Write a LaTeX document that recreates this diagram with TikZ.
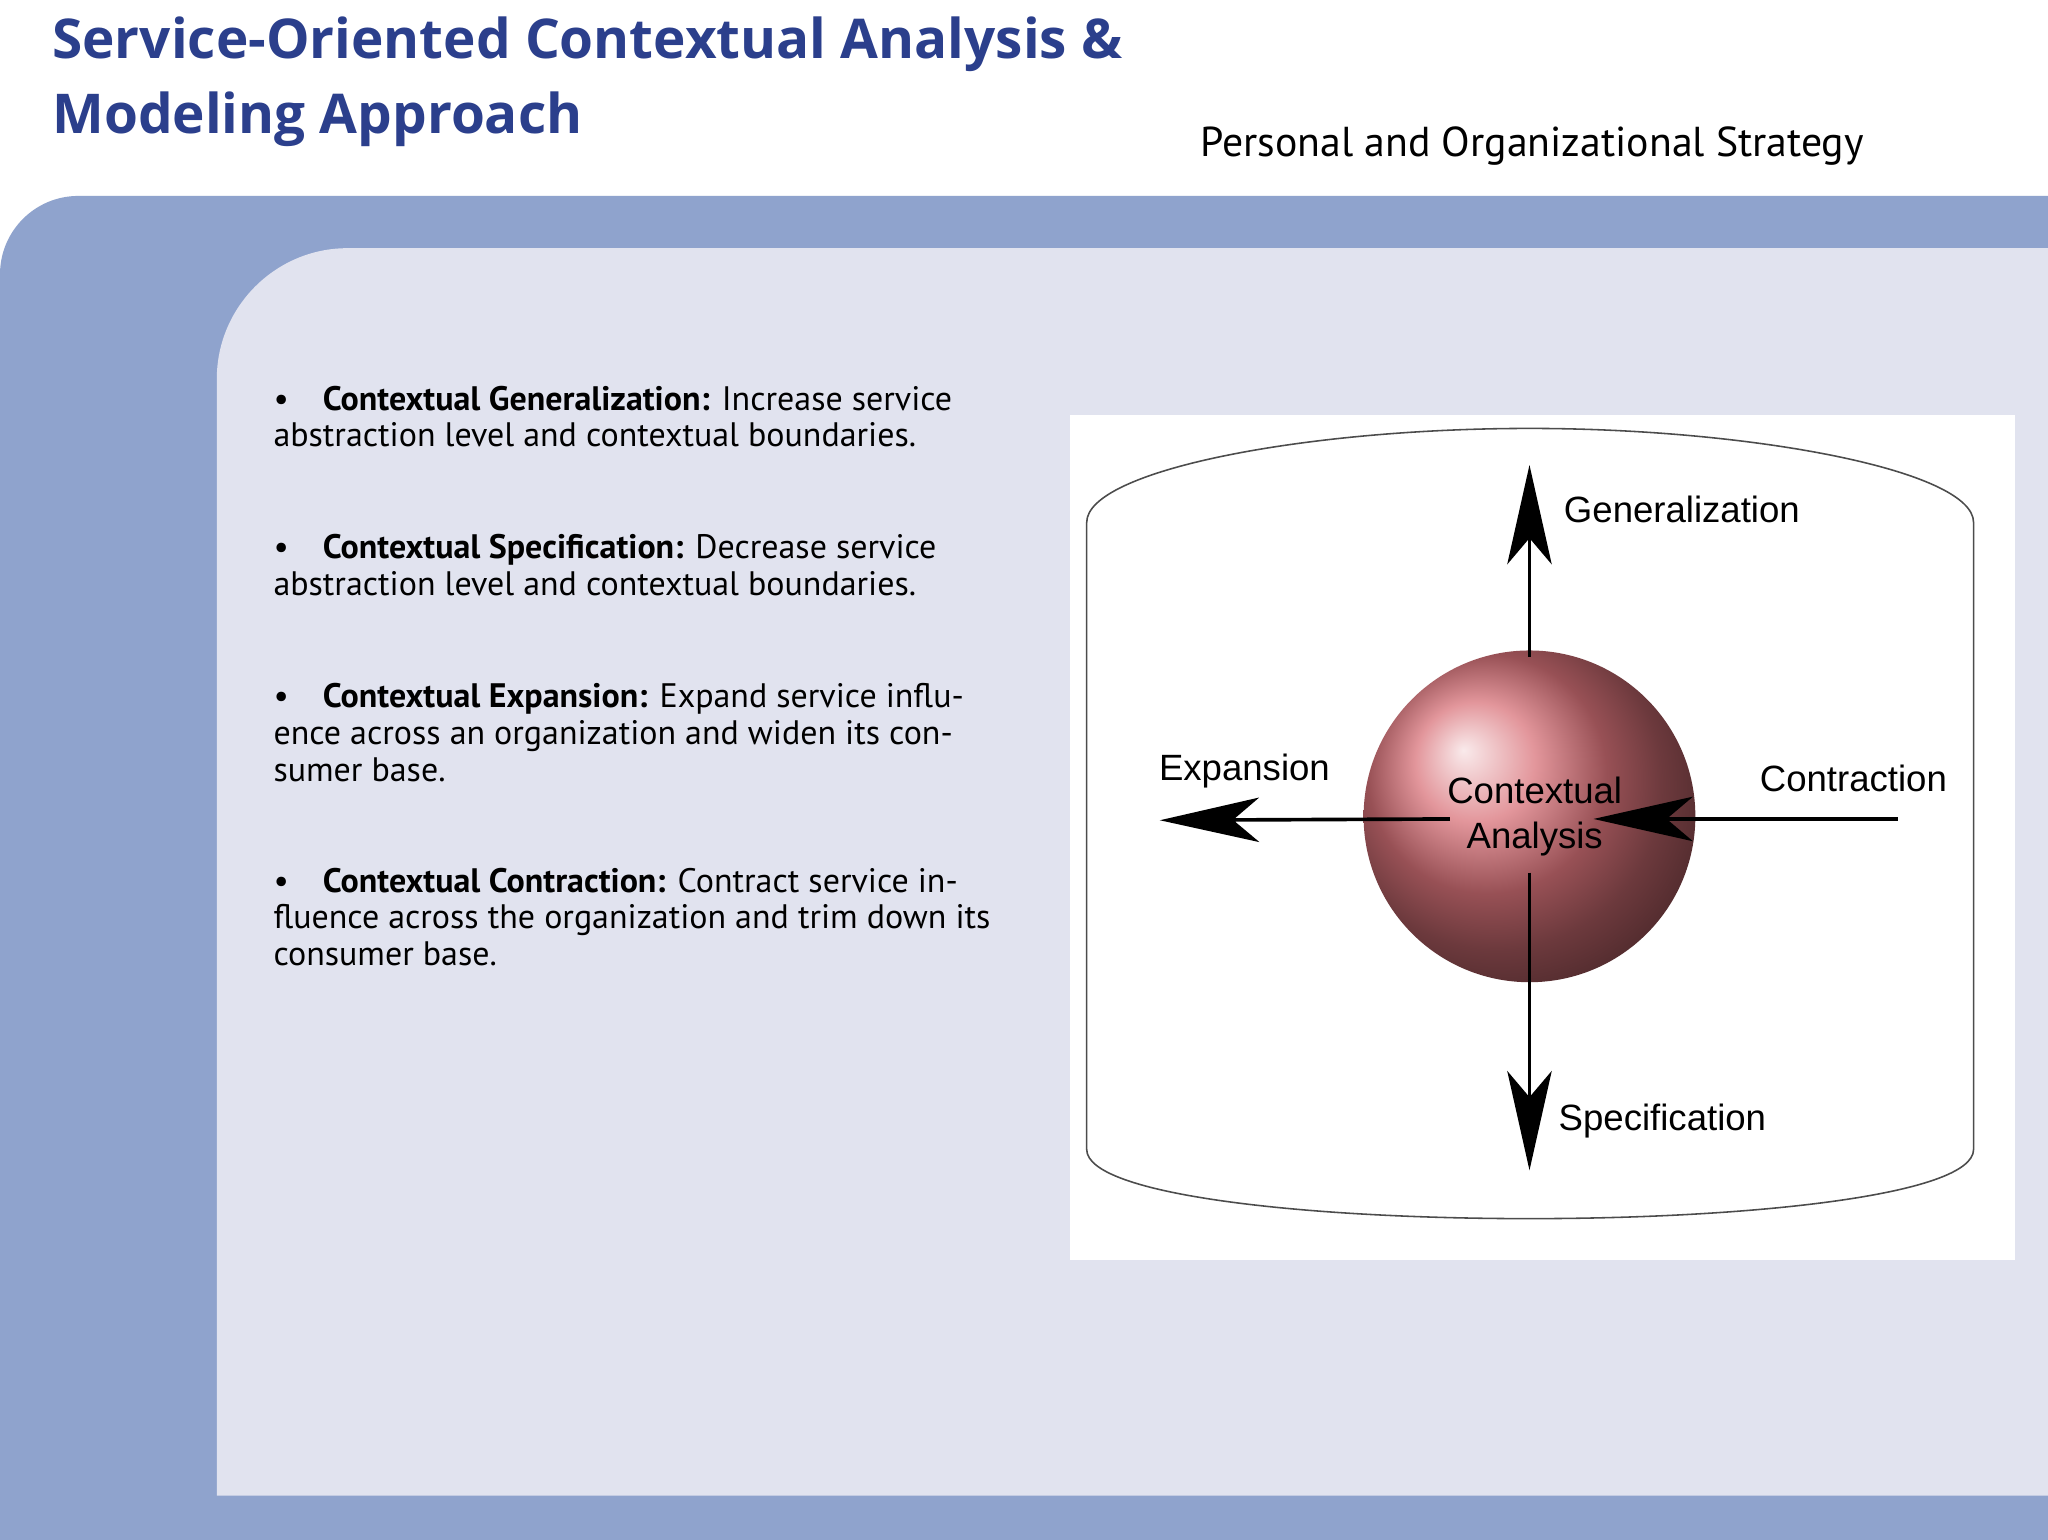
\documentclass[tikz,border=0pt]{standalone}
\usepackage{fontspec}
\setmainfont{PT Sans}
\setsansfont{Liberation Sans}
\newfontfamily\titlefont{Open Sans}
\usetikzlibrary{arrows.meta,shadings}
\definecolor{tblue}{HTML}{2B3F8C}
\definecolor{band}{HTML}{8FA3CD}
\definecolor{inner}{HTML}{E1E3EF}
\definecolor{ballc}{HTML}{D9737A}
\tikzset{
  bul/.style={anchor=north west,align=left,font=\fontsize{13}{14}\selectfont,inner sep=0pt},
  lab/.style={font=\fontsize{14}{15}\selectfont\sffamily,inner sep=0pt},
  arr/.style={line width=1.4pt,-{Stealth[length=38pt,width=17pt,inset=10pt]}},
}
\begin{document}
\begin{tikzpicture}[x=0.5pt,y=-0.5pt]
\useasboundingbox (0,0) rectangle (1568,1179);
\clip (0,0) rectangle (1568,1179);
\fill[white] (0,0) rectangle (1568,1179);
\fill[band,rounded corners=30pt] (0,150) rectangle (1700,1300);
\fill[band] (1000,150) rectangle (1700,1300);
\fill[inner] (166,1145) -- (166,290) .. controls (166,235) and (211,190) .. (266,190) -- (1568,190) -- (1568,1145) -- cycle;
\node[anchor=north west,align=left,text=tblue,font=\titlefont\fontsize{21}{28.5}\selectfont\bfseries] (title) at (33,6) {Service-Oriented Contextual Analysis \&\\Modeling Approach};
\node[anchor=west,font=\fontsize{16}{18}\selectfont] (strat) at (912,112) {Personal and Organizational Strategy};
\node[bul] (b1) at (209,295) {\textbullet\quad\textbf{Contextual Generalization:}  Increase service\\abstraction level and contextual boundaries.};
\node[bul] (b2) at (209,409) {\textbullet\quad\textbf{Contextual Specification:} Decrease service\\abstraction level and contextual boundaries.};
\node[bul] (b3) at (209,523) {\textbullet\quad\textbf{Contextual Expansion:}  Expand service influ-\\ence across an organization and widen its con-\\sumer base.};
\node[bul] (b4) at (209,664) {\textbullet\quad\textbf{Contextual Contraction:} Contract service in-\\fluence across the organization and trim down its\\consumer base.};
\fill[white] (819,318) rectangle (1543,965);
\draw[black!70,line width=0.6pt] (832,400) .. controls (832,360) and (1000,328) .. (1171,328) .. controls (1340,328) and (1511,360) .. (1511,400) -- (1511,880) .. controls (1511,915) and (1340,933) .. (1171,933) .. controls (1000,933) and (832,915) .. (832,880) -- cycle;
\shade[ball color=ballc] (1171,625) circle[radius=127];
\coordinate (top) at (1171,356);
\coordinate (bot) at (1171,896);
\coordinate (lft) at (888,628);
\coordinate (rgt) at (1453,627);
\coordinate (cr) at (1220,627);
\coordinate (ts) at (1171,503);
\coordinate (bs) at (1171,668);
\coordinate (ls) at (1110,627);
\draw[arr] (ts) -- (top);
\draw[arr] (bs) -- (bot);
\draw[arr] (ls) -- (lft);
\draw[arr] (rgt) -- (cr);
\node[lab,anchor=west] (gen) at (1197,390) {Generalization};
\node[lab,anchor=west] (exp) at (887,590) {Expansion};
\node[lab,anchor=west] (con) at (1347,596) {Contraction};
\node[lab,anchor=west] (spe) at (1193,858) {Specification};
\node[lab,align=center,font=\fontsize{14}{17}\selectfont\sffamily] (ca) at (1175,625) {Contextual\\Analysis};
\end{tikzpicture}
\end{document}
